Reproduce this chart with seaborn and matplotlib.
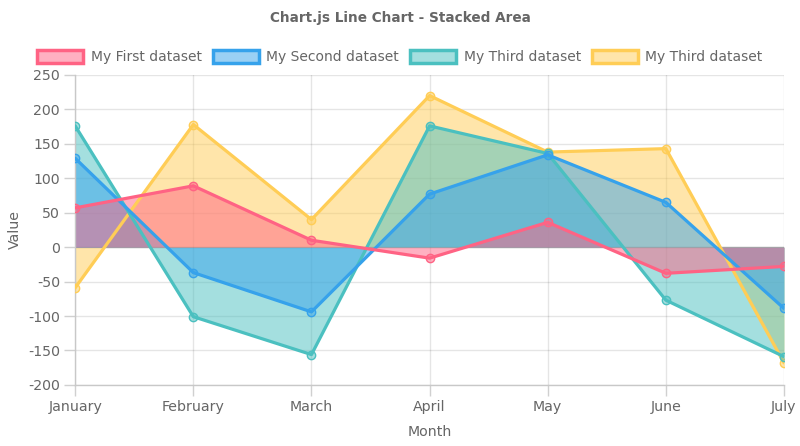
import matplotlib
matplotlib.use("Agg")
import numpy as np
import pandas as pd
import seaborn as sns
import matplotlib.pyplot as plt
from matplotlib.patches import Patch

# data
months = ["January", "February", "March", "April", "May", "June", "July"]
first = [57, 89, 10, -16, 36, -38, -28]
second = [129, -37, -94, 77, 134, 65, -89]
third = [176, -101, -156, 176, 136, -77, -159]
fourth = [-59, 178, 40, 220, 138, 143, -168]
labels = ["My First dataset", "My Second dataset", "My Third dataset", "My Third dataset"]
colors = ["#ff6384", "#36a2eb", "#4bc0c0", "#ffcd56"]
series = [first, second, third, fourth]

sns.set_theme(style="white")
plt.rcParams["font.family"] = ["DejaVu Sans"]
plt.rcParams["axes.unicode_minus"] = False
txt = "#666666"

fig = plt.figure(figsize=(8, 4.46), dpi=100)
ax = fig.add_axes([0.094, 0.137, 0.886, 0.695])

x = np.arange(len(months))

# fills first (last dataset at the bottom), then lines on top
for i in reversed(range(len(series))):
    ax.fill_between(x, 0, series[i], color=colors[i], alpha=0.5, lw=0, zorder=2)

for i in reversed(range(len(series))):
    df = pd.DataFrame({"month": x, "value": series[i]})
    sns.lineplot(data=df, x="month", y="value", ax=ax, color=colors[i], lw=2.3,
                 marker="o", markersize=6, markerfacecolor=colors[i] + "80",
                 markeredgecolor=colors[i], markeredgewidth=1.0, zorder=3 + (3 - i))

ax.axhline(0, color="black", alpha=0.25, lw=1, zorder=1)

ax.set_xlim(0, len(months) - 1)
ax.set_ylim(-200, 250)
ax.set_yticks(range(-200, 251, 50))
ax.set_xticks(x)
ax.set_xticklabels(months)
ax.grid(True, color="black", alpha=0.1, lw=1)
ax.set_axisbelow(True)
ax.tick_params(axis="both", colors="#d0d0d0", labelcolor=txt, labelsize=10.2,
               length=8, width=1, direction="out", pad=3, bottom=True, left=True)
for s in ["top", "right"]:
    ax.spines[s].set_visible(False)
for s in ["left", "bottom"]:
    ax.spines[s].set_color("#c8c8c8")
    ax.spines[s].set_linewidth(1)

ax.set_xlabel("Month", color=txt, fontsize=10.2, labelpad=8)
ax.set_ylabel("Value", color=txt, fontsize=10.2, labelpad=4)

fig.suptitle("Chart.js Line Chart - Stacked Area", y=0.975, color=txt,
             fontsize=9.8, fontweight="bold")

handles = [Patch(facecolor=c + "80", edgecolor=c, lw=2.5) for c in colors]
fig.legend(handles, labels, loc="center", bbox_to_anchor=(0.5, 0.872), ncol=4,
           frameon=False, fontsize=10, labelcolor=txt, handlelength=3.3,
           handleheight=1.0, handletextpad=0.55, columnspacing=0.8)

fig.savefig("out.png", dpi=100)
